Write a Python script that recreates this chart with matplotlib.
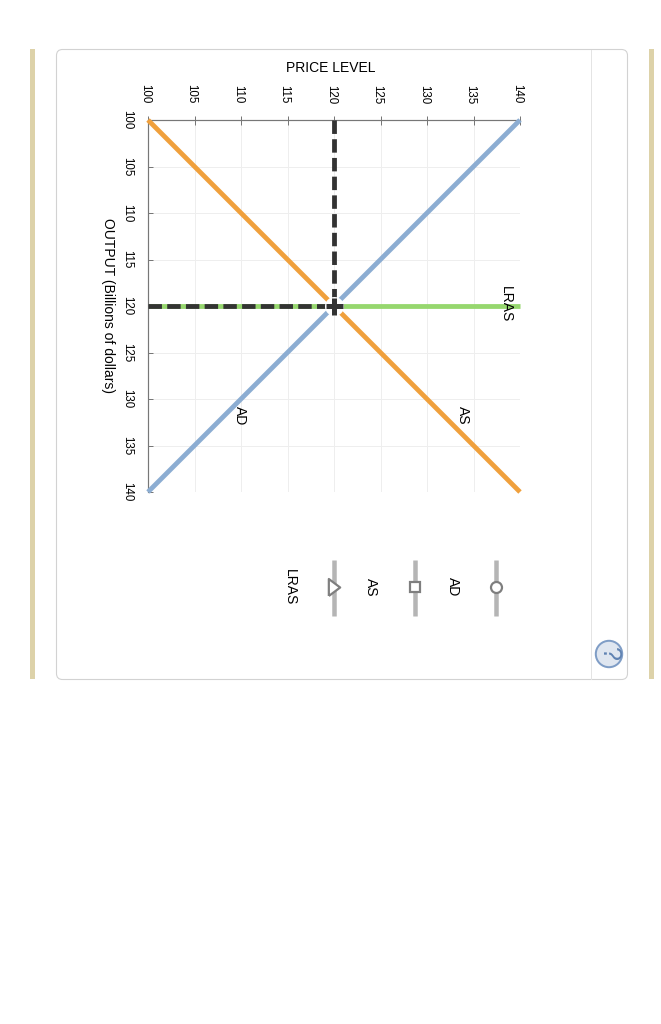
import matplotlib
matplotlib.use("Agg")
import matplotlib.pyplot as plt
from matplotlib.patches import FancyBboxPatch, Rectangle, Circle
from matplotlib.transforms import ScaledTranslation

plt.rcParams['font.family'] = ['Liberation Sans', 'DejaVu Sans']

W, H = 661, 1024
PX = 72 / 100  # points per pixel at dpi 100

# ---- data (price level on horizontal axis, output downward) ----
ticks = [100, 105, 110, 115, 120, 125, 130, 135, 140]
as_price = [100, 140]
as_output = [100, 140]
ad_price = [140, 100]
ad_output = [100, 140]
lras_price = [100, 140]
lras_output = [120, 120]
eq_price = 120
eq_output = 120
range_lo = 100
range_hi = 140
curve_labels = ["LRAS", "AS", "AD"]
curve_label_price = [138.5, 133.9, 109.9]
curve_label_output = [119.8, 131.8, 131.8]
legend_names = ["LRAS", "AS", "AD"]
legend_markers = [">", "s", "o"]

ORANGE = "#F0A03C"
BLUE = "#8CADD2"
GREEN = "#96D76E"
DARK = "#333333"
TAN = "#DDD2A9"

fig = plt.figure(figsize=(W / 100, H / 100), dpi=100, facecolor="white")

# ---- page chrome, in pixel coordinates ----
bg = fig.add_axes([0, 0, 1, 1], zorder=0)
bg.set_xlim(0, W)
bg.set_ylim(H, 0)
bg.axis("off")
bg.add_patch(Rectangle((30, 49), 5, 630, fc=TAN, ec="none"))
bg.add_patch(Rectangle((649, 49), 5, 630, fc=TAN, ec="none"))
bg.add_patch(FancyBboxPatch((56.5, 49.5), 571, 630, boxstyle="round,pad=0,rounding_size=6",
                            fc="white", ec="#D2D2D2", lw=1.1 * PX))
bg.plot([590.5, 590.5], [50, 679], color="#E4E4E4", lw=1 * PX)

# help icon
bg.add_patch(Circle((609, 654), 13.2, fc="#DFE6F0", ec="#7F9DC6", lw=2 * PX))
bg.text(609, 654, "?", rotation=270, ha="center", va="center", fontsize=18,
        color="#5F82B2")

# legend
tri = [(-6, -9), (6, 0), (-6, 9), (-6, -9)]
for name, mk, xp, xt in zip(legend_names, legend_markers, [334, 415, 496], [291, 372, 454]):
    bg.plot([xp, xp], [560, 615.5], color="#B5B5B5", lw=4.5 * PX, solid_capstyle="butt")
    marker = tri if mk == ">" else mk
    ms = {">": 17, "s": 9.5, "o": 11}[mk] * PX
    bg.plot([xp], [587], marker=marker, ms=ms, mfc="white", mec="#7F7F7F",
            mew=2.2 * PX, ls="none")
    bg.text(xt - 1, 587, name, rotation=270, ha="center", va="center",
            fontsize=10, color="black")

# ---- main plot ----
ax = fig.add_axes([148 / W, 1 - 492 / H, 372 / W, 372 / H], zorder=1)
ax.patch.set_alpha(0)
ax.set_xlim(range_lo, range_hi)
ax.set_ylim(range_hi, range_lo)
ax.set_xticks(ticks)
ax.set_yticks(ticks)
ax.xaxis.tick_top()
ax.grid(True, color="#EEEEEE", lw=1 * PX, zorder=0)
ax.set_axisbelow(True)
for s in ("right", "bottom"):
    ax.spines[s].set_visible(False)
for s in ("left", "top"):
    ax.spines[s].set_color("#777777")
    ax.spines[s].set_linewidth(1.2 * PX)
ax.tick_params(axis="x", direction="inout", length=9 * PX, width=1 * PX, color="#777777",
               pad=8.4, labelsize=8.3, labelrotation=270)
ax.tick_params(axis="y", direction="in", length=5 * PX, width=1 * PX, color="#777777",
               pad=10.6, labelsize=8.3, labelrotation=270)
shift_x = ScaledTranslation(-3 * PX / 72, 0, fig.dpi_scale_trans)
for lab in ax.get_yticklabels():
    lab.set_va("center")
for lab in ax.get_xticklabels():
    lab.set_ha("center")
    lab.set_transform(lab.get_transform() + shift_x)

LW = 4.8 * PX
ax.plot(lras_price, lras_output, color=GREEN, lw=LW, solid_capstyle="butt", zorder=2, clip_on=False)
ax.plot(as_price, as_output, color=ORANGE, lw=LW, solid_capstyle="butt", zorder=3, clip_on=False)
ax.plot(ad_price, ad_output, color=BLUE, lw=LW, solid_capstyle="butt", zorder=3, clip_on=False)
ax.plot([eq_price, eq_price], [range_lo, eq_output], color=DARK, lw=LW, dashes=(2.8, 1.1),
        dash_capstyle="butt", zorder=4)
ax.plot([range_lo, eq_price], [eq_output, eq_output], color=DARK, lw=LW, dashes=(2.8, 1.1),
        dash_capstyle="butt", zorder=4)
# white halo and equilibrium cross
ax.plot([eq_price], [eq_output], marker="o", ms=19 * PX, mfc="white", mec="none", ls="none", zorder=5)
ax.plot([eq_price], [eq_output], marker="+", ms=17 * PX, mec=DARK, mew=5 * PX, ls="none", zorder=6)

for name, p, o in zip(curve_labels, curve_label_price, curve_label_output):
    ax.text(p, o, name, rotation=270, ha="center", va="center", fontsize=10, color="black", zorder=7)

ax.set_xlabel("PRICE LEVEL", fontsize=10)
ax.xaxis.set_label_position("top")
ax.xaxis.set_label_coords(0.492, 1.14)
ax.xaxis.label.set_va("center")
ax.set_ylabel("OUTPUT (Billions of dollars)", fontsize=10, rotation=270, va="center", ha="center")
ax.yaxis.set_label_coords(-0.107, 0.5)

fig.savefig("out.png", dpi=100)
